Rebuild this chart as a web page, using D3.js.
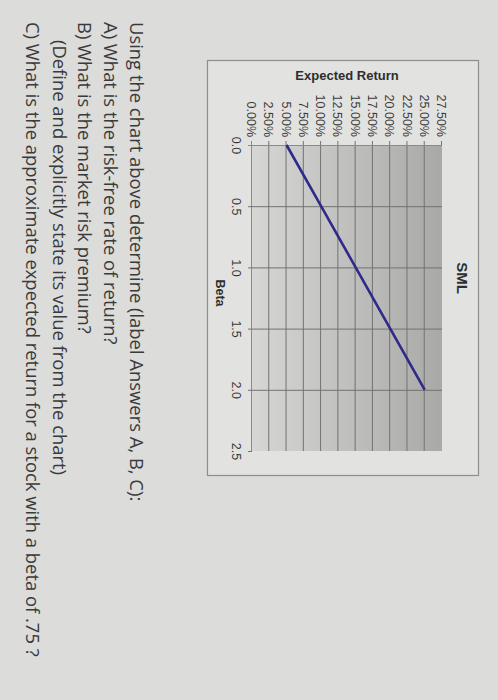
<!DOCTYPE html>
<html>
<head>
<meta charset="utf-8">
<script src="https://cdn.jsdelivr.net/npm/d3@7"></script>
<style>
  html, body { margin: 0; padding: 0; background: #dcdcda; }
  svg { display: block; }
</style>
</head>
<body>
<svg id="chart" width="498" height="700"></svg>
<script>
// ---- data ----
const betas = [0.0, 0.5, 1.0, 1.5, 2.0];
const expectedReturns = [5.0, 10.0, 15.0, 20.0, 25.0];   // percent
const betaTicks = [0.0, 0.5, 1.0, 1.5, 2.0, 2.5];
const returnTicks = [0, 2.5, 5, 7.5, 10, 12.5, 15, 17.5, 20, 22.5, 25, 27.5];
const chartTitle = "SML";
const xTitle = "Beta";
const yTitle = "Expected Return";
const questionLines = [
  "Using the chart above determine (label Answers A, B, C):",
  "A) What is the risk-free rate of return?",
  "B) What is the market risk premium?",
  "(Define and explicitly state its value from the chart)",
  "C) What is the approximate expected return for a stock with a beta of .75 ?"
];

const svg = d3.select("#chart");

// photo background
svg.append("rect").attr("width", 498).attr("height", 700).attr("fill", "#dcdcda");

// chart frame (photo is rotated 90° clockwise)
svg.append("rect")
  .attr("x", 207.5).attr("y", 60.5).attr("width", 271).attr("height", 415)
  .attr("fill", "#e2e2e0").attr("stroke", "#8e8e8e").attr("stroke-width", 1.2);

const W = 306, H = 190;
const defs = svg.append("defs");
const grad = defs.append("linearGradient").attr("id", "plotbg")
  .attr("x1", 0).attr("y1", 1).attr("x2", 0).attr("y2", 0);
grad.append("stop").attr("offset", "0%").attr("stop-color", "#d6d6d5");
grad.append("stop").attr("offset", "100%").attr("stop-color", "#a9a9a8");

const g = svg.append("g").attr("transform", "translate(442,145) rotate(90)");

const x = d3.scaleLinear().domain([0, 2.5]).range([0, W]);
const y = d3.scaleLinear().domain([0, 27.5]).range([H, 0]);

g.append("rect").attr("x", 0).attr("y", 0).attr("width", W).attr("height", H)
  .attr("fill", "url(#plotbg)");

// horizontal gridlines (return) via axis
const yAxis = g.append("g").call(
  d3.axisLeft(y).tickValues(returnTicks).tickSize(0).tickFormat(d => d3.format(".2f")(d) + "%")
);
yAxis.select(".domain").remove();
yAxis.selectAll(".tick line").remove();
yAxis.selectAll(".tick").append("line")
  .attr("x1", -4).attr("x2", d => d === 27.5 ? 0 : W)
  .attr("stroke", d => d === 0 ? "#8a8a8a" : "#727272").attr("stroke-width", 1);
yAxis.selectAll(".tick text")
  .attr("x", -8).attr("dy", "0.35em")
  .attr("font-family", "Liberation Sans, Arial, sans-serif")
  .attr("font-size", 12.5).attr("fill", "#3a3a3a");

// vertical gridlines (beta)
const xAxis = g.append("g").attr("transform", `translate(0,${H})`).call(
  d3.axisBottom(x).tickValues(betaTicks).tickSize(0).tickFormat(d3.format(".1f"))
);
xAxis.select(".domain").remove();
xAxis.selectAll(".tick line").remove();
xAxis.selectAll(".tick").append("line")
  .attr("y1", 4).attr("y2", d => d === 2.5 ? 0 : -H)
  .attr("stroke", d => d === 0 ? "#8a8a8a" : "#727272").attr("stroke-width", 1);
xAxis.selectAll(".tick text")
  .attr("y", 16).attr("dy", "0.35em")
  .attr("font-family", "Liberation Sans, Arial, sans-serif")
  .attr("font-size", 12.5).attr("fill", "#3a3a3a");

// SML line
const pts = betas.map((b, i) => [b, expectedReturns[i]]);
g.append("path").datum(pts)
  .attr("d", d3.line().x(d => x(d[0])).y(d => y(d[1])))
  .attr("fill", "none").attr("stroke", "#2f2a8a").attr("stroke-width", 2.6);

// titles
g.append("text").attr("x", 133).attr("y", -20).attr("dy", "0.35em")
  .attr("text-anchor", "middle").attr("font-family", "Liberation Sans, Arial, sans-serif")
  .attr("font-weight", "bold").attr("font-size", 15).attr("fill", "#2e2e2e").text(chartTitle);

g.append("text").attr("x", W / 2 - 5).attr("y", H + 32).attr("dy", "0.35em")
  .attr("text-anchor", "middle").attr("font-family", "Liberation Sans, Arial, sans-serif")
  .attr("font-weight", "bold").attr("font-size", 12.5).attr("fill", "#2e2e2e").text(xTitle);

g.append("text")
  .attr("transform", `translate(-70,${y(13.75)}) rotate(-90)`)
  .attr("dy", "0.35em").attr("text-anchor", "middle")
  .attr("font-family", "Liberation Sans, Arial, sans-serif")
  .attr("font-weight", "bold").attr("font-size", 13).attr("fill", "#2e2e2e").text(yTitle);

// question text (rotated with the photo)
const lineCenters = [137, 111, 85, 60, 33];
const lineStarts = [22, 22, 22, 40, 22];
const targetLen = 635; // length of longest line in px
let fs = 16;
const probe = svg.append("text").attr("font-family", "Open Sans, sans-serif")
  .attr("font-size", fs).text(questionLines[4]);
const len = probe.node().getComputedTextLength();
probe.remove();
fs = fs * targetLen / len;

questionLines.forEach((t, i) => {
  svg.append("text")
    .attr("transform", `translate(${lineCenters[i] - 0.36 * fs},${lineStarts[i]}) rotate(90)`)
    .attr("font-family", "Open Sans, sans-serif")
    .attr("font-size", fs).attr("fill", "#3a3a3a").text(t);
});
</script>
</body>
</html>
